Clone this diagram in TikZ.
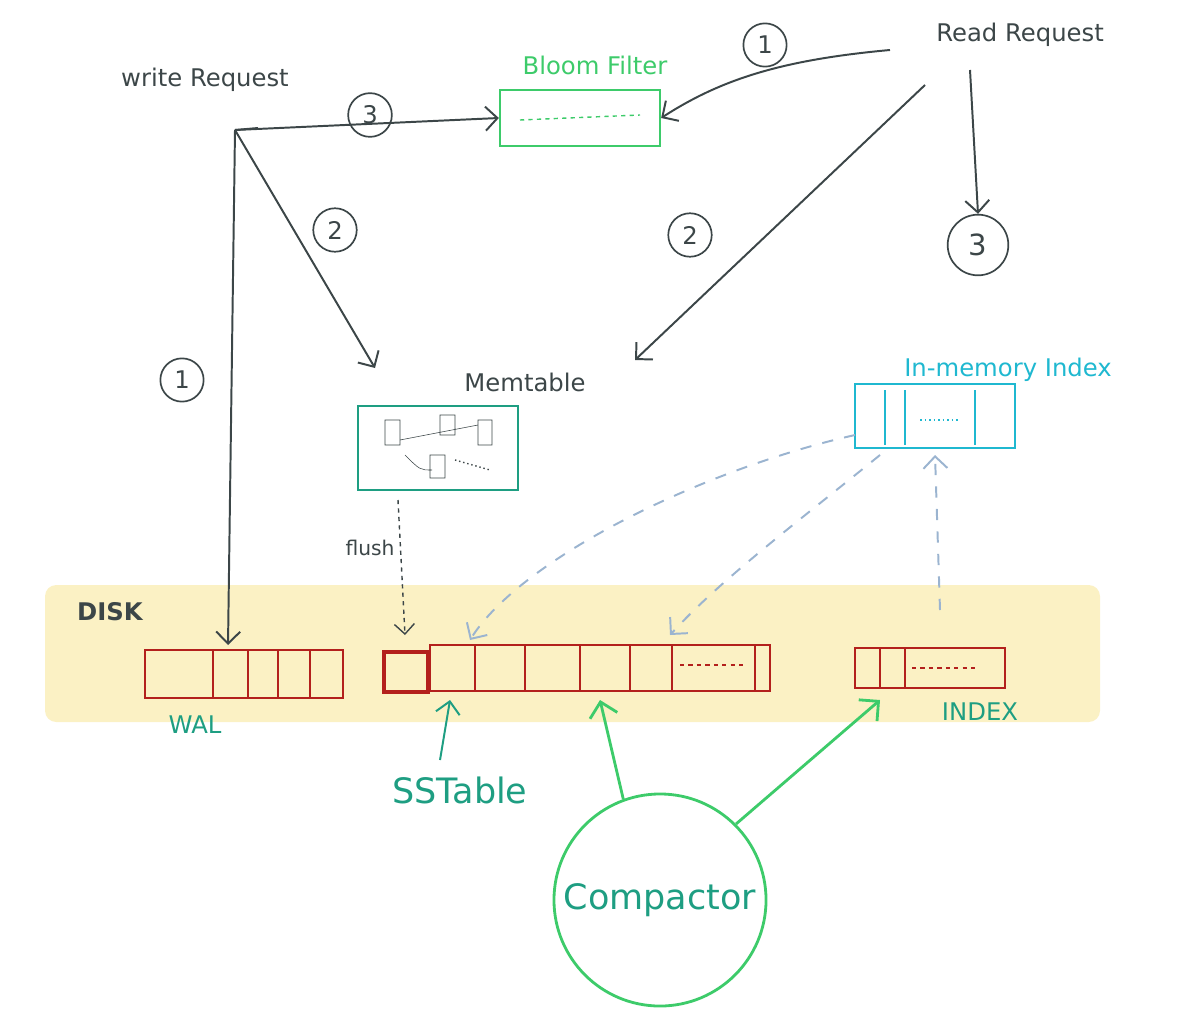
\documentclass[tikz,border=0pt]{standalone}
\usepackage{fontspec}
\setmainfont{DejaVu Sans}
\usetikzlibrary{arrows.meta}
\definecolor{ink}{HTML}{3C4648}
\definecolor{grn}{HTML}{3DCB6A}
\definecolor{teal2}{HTML}{1E9E82}
\definecolor{cy}{HTML}{1FB8D0}
\definecolor{rd}{HTML}{B3201C}
\definecolor{disk}{HTML}{FBF1C4}
\definecolor{lb}{HTML}{9BB4D0}
\begin{document}
\begin{tikzpicture}[x=0.025cm,y=-0.025cm,
  arr/.style={-{Straight Barb[length=3mm]},ink,line width=1.4pt},
  lbl/.style={font=\LARGE,ink},
  circ/.style={draw=ink,circle,line width=1.2pt,font=\LARGE,text=ink,inner sep=5pt},
  dsh/.style={-{Straight Barb[length=3mm]},lb,line width=1.4pt,dash pattern=on 8pt off 8pt},
  red box/.style={draw=rd,line width=1.6pt}]
\useasboundingbox (0,0) rectangle (1200,1018);
\fill[disk,rounded corners=8pt] (45,585) rectangle (1100,722);
\node[font=\LARGE\bfseries,ink] (disklbl) at (110,612) {DISK};
% text nodes
\node[lbl] (wr) at (205,80) {write Request};
\node[lbl] (rr) at (1020,35) {Read Request};
\coordinate (j) at (235,130);
\node[font=\LARGE,text=grn] (bfl) at (595,65) {Bloom Filter};
\node[draw=grn,line width=1.6pt,minimum width=4cm,minimum height=1.4cm] (bf) at (580,118) {};
\draw[grn,dashed,line width=1pt] (520,120) -- (640,115);
\node[font=\LARGE,ink] (mtl) at (525,382) {Memtable};
\node[draw=teal2,line width=1.6pt,minimum width=4cm,minimum height=2.1cm] (mt) at (438,448) {};
\draw[ink] (385,420) rectangle (400,445) (440,415) rectangle (455,435) (478,420) rectangle (492,445) (430,455) rectangle (445,478)
  (400,440) -- (478,425) (405,455) .. controls (420,470) .. (432,470);
\draw[ink,dotted,line width=1pt] (455,460) -- (490,470);
\node[font=\LARGE,text=cy] (iml) at (1008,370) {In-memory Index};
\node[draw=cy,line width=1.6pt,minimum width=4cm,minimum height=1.6cm] (im) at (935,416) {};
\draw[cy,line width=1.2pt] (885,390)--(885,445) (905,390)--(905,445) (975,390)--(975,445);
\draw[cy,dotted,line width=1.2pt] (920,420)--(960,420);
% circled numbers
\node[circ] (c3w) at (370,115) {3};
\node[circ] (c2w) at (335,230) {2};
\node[circ] (c1w) at (182,380) {1};
\node[circ] (c1r) at (765,45) {1};
\node[circ] (c2r) at (690,235) {2};
\node[circ,font=\huge,inner sep=8pt] (c3r) at (978,245) {3};
% disk elements
\node[red box,minimum width=4.95cm,minimum height=1.2cm] (wal) at (244,674) {};
\foreach \x in {213,248,278,310} \draw[rd,line width=1.4pt] (\x,650)--(\x,698);
\node[font=\LARGE,text=teal2] (wall) at (195,725) {WAL};
\node[red box,line width=3pt,minimum width=1.1cm,minimum height=1cm] (sq) at (406,672) {};
\node[red box,minimum width=8.5cm,minimum height=1.15cm] (sst) at (600,668) {};
\foreach \x in {475,525,580,630,672,755} \draw[rd,line width=1.4pt] (\x,645)--(\x,690);
\draw[rd,dashed,line width=1.2pt] (680,665)--(745,665);
\node[red box,minimum width=3.75cm,minimum height=1cm] (idx) at (930,668) {};
\foreach \x in {880,905} \draw[rd,line width=1.4pt] (\x,648)--(\x,688);
\draw[rd,dashed,line width=1.2pt] (912,668)--(975,668);
\node[font=\LARGE,text=teal2] (idxl) at (980,712) {INDEX};
\node[font=\Huge,text=teal2] (sstl) at (460,790) {SSTable};
\node[draw=grn,circle,line width=2pt,minimum size=5.3cm,font=\Huge,text=teal2] (cmp) at (660,900) {Compactor};
\node[font=\Large,ink] (fl) at (370,548) {flush};
% write connectors
\draw[ink,line width=1.4pt] (j) -- (258,128);
\draw[arr] (j) -- (bf.west);
\draw[arr] (j) -- (375,368);
\draw[arr] (j) -- (228,645);
% read connectors
\draw[arr] (890,50) .. controls (780,60) and (720,80) .. (bf.east);
\draw[arr] (925,85) -- (635,360);
\draw[arr] (970,70) -- (c3r.north);
% flush
\draw[-{Straight Barb[length=2.5mm]},ink,line width=1pt,dashed] (398,500) -- (405,635);
% dashed blue
\draw[dsh] (855,435) .. controls (700,470) and (520,560) .. (470,640);
\draw[dsh] (880,455) .. controls (800,520) and (720,580) .. (670,635);
\draw[dsh] (940,610) -- (935,455);
% green arrows
\draw[-{Straight Barb[length=3mm]},teal2,line width=1.4pt] (440,760) -- (450,700);
\draw[-{Straight Barb[length=3.5mm]},grn,line width=2pt] (cmp.110) -- (600,700);
\draw[-{Straight Barb[length=3.5mm]},grn,line width=2pt] (cmp.45) -- (880,700);
\end{tikzpicture}
\end{document}
